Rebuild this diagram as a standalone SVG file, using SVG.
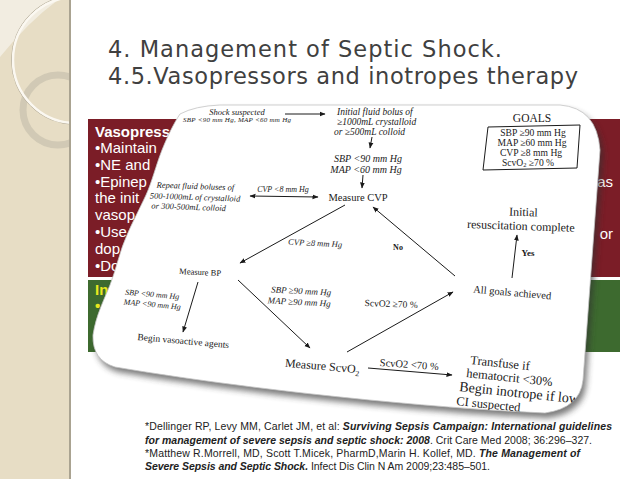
<svg xmlns="http://www.w3.org/2000/svg" width="638" height="479" viewBox="0 0 638 479">
<defs>
<style>
.fc{font-family:"Liberation Serif","Times New Roman",serif;fill:#1a1a1a}
.it{font-style:italic}
.b{font-weight:bold}
.ln{stroke:#1a1a1a;stroke-width:1;fill:none;marker-end:url(#ah)}
.rt{font-family:"Liberation Sans",Arial,sans-serif;font-size:15px;fill:#ffffff}
.yt{font-family:"Liberation Sans",Arial,sans-serif;font-size:15px;fill:#e8e820;font-weight:bold}
.cit{font-family:"Liberation Sans",Arial,sans-serif;font-size:10.5px;fill:#222222}
.bi{font-weight:bold;font-style:italic}
.ttl{font-family:"DejaVu Sans",sans-serif;font-size:22.5px;fill:#404040}
.gl{font-family:"Liberation Serif","Times New Roman",serif;fill:#1a1a1a;font-size:9.6px}
</style>
<marker id="ah" markerWidth="7" markerHeight="6" refX="5.5" refY="3" orient="auto" markerUnits="userSpaceOnUse">
<path d="M0,0.6 L6,3 L0,5.4 Z" fill="#1a1a1a"/>
</marker>
<marker id="ahs" markerWidth="7" markerHeight="6" refX="5.5" refY="3" orient="auto-start-reverse" markerUnits="userSpaceOnUse">
<path d="M0,0.6 L6,3 L0,5.4 Z" fill="#1a1a1a"/>
</marker>
<path id="cardpath" d="M180,114 Q195,106 220,105 L560,105 Q597,108 600,150 L583,380 Q580,408 545,413 C430,408 250,390 115,367 Q92,360 93,335 C96,315 104,300 110,285 C116,270 120,250 127,235 C132,223 140,208 146,195 C152,182 156,165 162,150 C168,135 174,123 180,114 Z"/>
<clipPath id="cardclip"><use href="#cardpath"/></clipPath>
<clipPath id="stripclip"><rect x="0" y="0" width="70" height="479"/></clipPath>
<filter id="sh" x="-10%" y="-10%" width="120%" height="130%"><feGaussianBlur stdDeviation="3"/></filter>
</defs>

<rect x="0" y="0" width="638" height="479" fill="#ffffff"/>

<g id="strip">
<rect x="0" y="0" width="70" height="479" fill="#e7ddc5"/>
<g clip-path="url(#stripclip)">
<path d="M0,0 L58,0 Q28,22 0,57 Z" fill="#f2ede1"/>
<circle cx="58" cy="110" r="35" fill="none" stroke="#cdc5b2" stroke-width="7" opacity="0.85"/>
<circle cx="76" cy="60" r="64.5" fill="none" stroke="#b3ab98" stroke-width="1"/>
<circle cx="76" cy="60" r="63" fill="none" stroke="#fbf8f1" stroke-width="2.5"/>
</g>
<rect x="69" y="0" width="2" height="479" fill="#aaa391"/>
</g>

<g id="title">
<text class="ttl" x="108" y="57" textLength="394">4. Management of Septic Shock.</text>
<text class="ttl" x="108" y="84" textLength="470">4.5.Vasopressors and inotropes therapy</text>
</g>

<g id="slide-boxes">
<rect x="88" y="119" width="532" height="158" fill="#7b1d27"/>
<rect x="88" y="280" width="532" height="72" fill="#3d6a2f"/>
<text class="rt" x="95" y="137" font-weight="bold">Vasopress</text>
<text class="rt" x="95" y="153">•Maintain</text>
<text class="rt" x="95" y="170">•NE and</text>
<text class="rt" x="95" y="187">•Epinep</text>
<text class="rt" x="95" y="203">the init</text>
<text class="rt" x="95" y="220">vasop</text>
<text class="rt" x="95" y="237">•Use</text>
<text class="rt" x="95" y="254">dop</text>
<text class="rt" x="95" y="271">•Do</text>
<text class="rt" x="613" y="187" text-anchor="end">as</text>
<text class="rt" x="613" y="239" text-anchor="end">or</text>
<text class="yt" x="95" y="295">In</text>
<text class="yt" x="95" y="311" font-weight="normal">•</text>
</g>

<g id="card-shadow">
<use href="#cardpath" transform="translate(3,5)" fill="#303030" opacity="0.65" filter="url(#sh)"/>
</g>
<g id="card">
<use href="#cardpath" fill="#ffffff" stroke="#c4c4c4" stroke-width="0.8"/>
</g>

<g id="flowchart" clip-path="url(#cardclip)">
<g id="connectors">
<line class="ln" x1="285" y1="114" x2="325" y2="114"/>
<line class="ln" x1="372" y1="137" x2="370" y2="148"/>
<line class="ln" x1="363" y1="175" x2="362" y2="188"/>
<line class="ln" x1="318" y1="197" x2="250" y2="196" marker-start="url(#ahs)"/>
<line class="ln" x1="345" y1="205" x2="240" y2="263"/>
<line class="ln" x1="455" y1="276" x2="373" y2="207"/>
<line class="ln" x1="198" y1="282" x2="183" y2="332"/>
<line class="ln" x1="238" y1="280" x2="310" y2="348"/>
<line class="ln" x1="347" y1="352" x2="453" y2="292"/>
<line class="ln" x1="368" y1="368" x2="452" y2="375"/>
<line class="ln" x1="512" y1="278" x2="517" y2="235"/>
</g>

<g id="shock">
<text class="fc it" x="237" y="115" font-size="8.5" text-anchor="middle">Shock suspected</text>
<text class="fc it" x="237" y="121.5" font-size="7" text-anchor="middle" textLength="108">SBP &lt;90 mm Hg, MAP &lt;60 mm Hg</text>
</g>
<g id="bolus">
<text class="fc it" x="337" y="115" font-size="9.5">Initial fluid bolus of</text>
<text class="fc it" x="337" y="125" font-size="9.5">≥1000mL crystalloid</text>
<text class="fc it" x="334" y="135" font-size="9.5">or ≥500mL colloid</text>
</g>
<g id="hypotension">
<text class="fc it" x="368" y="162" font-size="10" text-anchor="middle">SBP &lt;90 mm Hg</text>
<text class="fc it" x="366" y="173" font-size="10" text-anchor="middle">MAP &lt;60 mm Hg</text>
</g>
<g id="measure-cvp">
<text class="fc" x="358" y="201" font-size="10.5" text-anchor="middle">Measure CVP</text>
<text class="fc it" x="283" y="192" font-size="8" text-anchor="middle">CVP &lt;8 mm Hg</text>
</g>
<g id="repeat-fluid" transform="rotate(2 195 198)">
<text class="fc it" x="195" y="189" font-size="8.5" text-anchor="middle">Repeat fluid boluses of</text>
<text class="fc it" x="195" y="200" font-size="8.5" text-anchor="middle">500-1000mL of crystalloid</text>
<text class="fc it" x="189" y="210" font-size="8.5" text-anchor="middle">or 300-500mL colloid</text>
</g>
<g id="labels-mid">
<text class="fc it" x="315" y="246" font-size="8.5" text-anchor="middle" transform="rotate(3 315 246)">CVP ≥8 mm Hg</text>
<text class="fc b" x="398" y="250" font-size="8" text-anchor="middle">No</text>
</g>
<g id="measure-bp">
<text class="fc" x="200" y="275" font-size="8.5" text-anchor="middle" transform="rotate(3 200 275)">Measure BP</text>
<text class="fc it" x="152" y="297" font-size="8" text-anchor="middle" transform="rotate(5 152 297)">SBP &lt;90 mm Hg</text>
<text class="fc it" x="152" y="307" font-size="8" text-anchor="middle" transform="rotate(5 152 307)">MAP &lt;90 mm Hg</text>
<text class="fc it" x="301" y="294" font-size="9" text-anchor="middle" transform="rotate(3 301 294)">SBP ≥90 mm Hg</text>
<text class="fc it" x="299" y="305" font-size="9" text-anchor="middle" transform="rotate(3 299 305)">MAP ≥90 mm Hg</text>
</g>
<g id="vasoactive">
<text class="fc" x="183" y="344" font-size="9.5" text-anchor="middle" transform="rotate(5 183 344)">Begin vasoactive agents</text>
</g>
<g id="measure-scvo2">
<text class="fc" x="322" y="370" font-size="12" text-anchor="middle" transform="rotate(5 322 370)">Measure ScvO<tspan font-size="8" dy="3">2</tspan></text>
<text class="fc" x="391" y="307" font-size="9.5" text-anchor="middle" transform="rotate(2 391 307)">ScvO2 ≥70 %</text>
<text class="fc" x="409" y="368" font-size="10.5" text-anchor="middle" transform="rotate(4 409 368)">ScvO2 &lt;70 %</text>
</g>
<g id="goals-achieved">
<text class="fc" x="512" y="296" font-size="10.5" text-anchor="middle" transform="rotate(5 512 296)">All goals achieved</text>
<text class="fc b" x="528" y="256" font-size="9" text-anchor="middle">Yes</text>
</g>
<g id="resusc-complete" transform="rotate(2 523 223)">
<text class="fc" x="523" y="216" font-size="12" text-anchor="middle">Initial</text>
<text class="fc" x="521" y="230" font-size="12" text-anchor="middle">resuscitation complete</text>
</g>
<g id="goals">
<text class="fc" x="532" y="122" font-size="11.5" text-anchor="middle">GOALS</text>
<polygon points="488,127 580,125 577,168 483,170" fill="none" stroke="#1a1a1a" stroke-width="1"/>
<text class="gl" x="533" y="136" text-anchor="middle">SBP ≥90 mm Hg</text>
<text class="gl" x="532" y="146" text-anchor="middle">MAP ≥60 mm Hg</text>
<text class="gl" x="531" y="156" text-anchor="middle">CVP ≥8 mm Hg</text>
<text class="gl" x="528" y="165.5" text-anchor="middle">ScvO<tspan font-size="6.5" dy="1.5">2</tspan><tspan dy="-1.5"> ≥70 %</tspan></text>
</g>
<g id="transfuse">
<text class="fc" x="470" y="364" font-size="12.5" transform="rotate(6 470 364)">Transfuse if</text>
<text class="fc" x="466" y="377" font-size="12.5" transform="rotate(6 466 377)">hematocrit &lt;30%</text>
<text class="fc" x="459" y="391" font-size="14" transform="rotate(6 459 391)">Begin inotrope if low</text>
<text class="fc" x="456" y="405" font-size="12.5" transform="rotate(6 456 405)">CI suspected</text>
</g>
</g>

<g id="citation">
<text class="cit" x="145" y="430" textLength="467">*Dellinger RP, Levy MM, Carlet JM, et al: <tspan class="bi">Surviving Sepsis Campaign: International guidelines</tspan></text>
<text class="cit" x="145" y="444" textLength="447"><tspan class="bi">for management of severe sepsis and septic shock: 2008</tspan>. Crit Care Med 2008; 36:296–327.</text>
<text class="cit" x="145" y="457" textLength="435">*Matthew R.Morrell, MD, Scott T.Micek, PharmD,Marin H. Kollef, MD. <tspan class="bi">The Management of</tspan></text>
<text class="cit" x="145" y="470" textLength="345"><tspan class="bi">Severe Sepsis and Septic Shock.</tspan> Infect Dis Clin N Am 2009;23:485–501.</text>
</g>
</svg>
